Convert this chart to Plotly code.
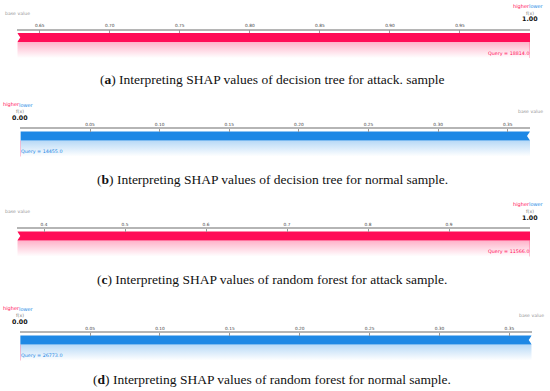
import plotly.graph_objects as go

W, H = 550, 391

# ---------------- data ----------------
panel_letters = ["a", "b", "c", "d"]
caption_texts = [
    "Interpreting SHAP values of decision tree for attack. sample",
    "Interpreting SHAP values of decision tree for normal sample.",
    "Interpreting SHAP values of random forest for attack sample.",
    "Interpreting SHAP values of random forest for normal sample.",
]
base_values = [0.634, 0.366, 0.367, 0.366]
fx_values = [1.00, 0.00, 1.00, 0.00]
query_values = [18814.0, 14455.0, 11566.0, 26773.0]
tick_values = [
    [0.65, 0.70, 0.75, 0.80, 0.85, 0.90, 0.95],
    [0.05, 0.10, 0.15, 0.20, 0.25, 0.30, 0.35],
    [0.4, 0.5, 0.6, 0.7, 0.8, 0.9],
    [0.05, 0.10, 0.15, 0.20, 0.25, 0.30, 0.35],
]
tick_formats = [".2f", ".2f", ".1f", ".2f"]

# ---------------- style / layout (pixels) ----------------
RED = "rgb(255,13,87)"
BLUE = "rgb(30,136,229)"
axis_y = [29.5, 128.0, 228.0, 332.0]        # axis line y (px from top)
dom_left = [17.3, 20.4, 17.3, 20.2]          # px of the left end of the plotted span
dom_right = [530.0, 530.0, 530.0, 531.7]     # px of the right end
caption_y = [79, 179, 279, 379]
caption_x = 272
bar_gap, bar_h, grad_h = 3.5, 9.0, 16.0
notch_px = 3.0

fig = go.Figure()
annotations = []
layout_axes = {}


def px_x(p):
    return p / W


def px_y(p):
    return 1 - p / H


def label(x, y, text, size, color, xanchor="center", family="DejaVu Sans"):
    return dict(x=px_x(x), y=px_y(y), xref="paper", yref="paper", text=text,
                showarrow=False, xanchor=xanchor, yanchor="middle", borderpad=0,
                font=dict(family=family, size=size, color=color))


for i in range(4):
    ax_id = "x" if i == 0 else f"x{i + 1}"
    ax_key = "xaxis" if i == 0 else f"xaxis{i + 1}"
    base, fx = base_values[i], fx_values[i]
    lo, hi = min(base, fx), max(base, fx)
    positive = fx > base
    color = RED if positive else BLUE
    rgb = color[4:-1]

    layout_axes[ax_key] = dict(
        domain=[dom_left[i] / W, dom_right[i] / W],
        range=[lo, hi],
        anchor="free",
        position=px_y(axis_y[i]),
        side="top",
        showline=True,
        linecolor="#b5b5b5",
        linewidth=1.5,
        ticks="inside",
        ticklen=3,
        tickwidth=1,
        tickcolor="#999999",
        tickvals=tick_values[i],
        tickformat=tick_formats[i],
        tickfont=dict(family="DejaVu Sans", size=4.3, color="#444444"),
        showgrid=False,
        zeroline=False,
        fixedrange=True,
    )

    top = axis_y[i] + bar_gap
    bottom = top + bar_h
    mid = (top + bottom) / 2
    ppu = (dom_right[i] - dom_left[i]) / (hi - lo)
    nd = notch_px / ppu

    # gradient area under the bar
    fig.add_trace(go.Scatter(
        x=[lo, hi, hi, lo, lo], y=[bottom, bottom, bottom + grad_h, bottom + grad_h, bottom],
        xaxis=ax_id, yaxis="y", mode="lines", line=dict(width=0),
        fill="toself",
        fillgradient=dict(type="vertical", start=bottom, stop=bottom + grad_h,
                          colorscale=[[0, f"rgba({rgb},0.32)"], [1, f"rgba({rgb},0.0)"]]),
        hoverinfo="skip", showlegend=False,
    ))

    # the bar with its chevron notch at the base-value end
    if positive:
        xs = [lo, hi, hi, lo, lo + nd, lo]
        ys = [top, top, bottom, bottom, mid, top]
    else:
        xs = [lo, hi, hi - nd, hi, lo, lo]
        ys = [top, top, mid, bottom, bottom, top]
    fig.add_trace(go.Scatter(
        x=xs, y=ys, xaxis=ax_id, yaxis="y", mode="lines", line=dict(width=0),
        fill="toself", fillcolor=color, hoverinfo="skip", showlegend=False,
    ))

    # thin marker line at the f(x) end
    fig.add_trace(go.Scatter(
        x=[fx, fx], y=[bottom, bottom + grad_h], xaxis=ax_id, yaxis="y", mode="lines",
        line=dict(width=1, color="rgba(255,13,87,0.45)"), hoverinfo="skip", showlegend=False,
    ))

    fx_px = dom_right[i] if positive else dom_left[i]
    base_px = dom_left[i] if positive else dom_right[i]

    annotations.append(label(base_px, axis_y[i] - 16.5, "base value", 4.6, "#999999"))
    annotations.append(label(fx_px + 0.5, axis_y[i] - 23.5, "higher", 5, RED, "right"))
    annotations.append(label(fx_px - 2.5, axis_y[i] - 23.5, "lower", 5, BLUE, "left"))
    annotations.append(label(fx_px, axis_y[i] - 16.5, "f(x)", 4.6, "#777777"))
    annotations.append(label(fx_px, axis_y[i] - 10.5, f"<b>{fx:.2f}</b>", 6.3, "#111111"))
    annotations.append(label(fx_px, bottom + 11, f"Query = {query_values[i]:.1f}", 4.8, color,
                             "right" if positive else "left"))
    annotations.append(label(caption_x, caption_y[i],
                             f"(<b>{panel_letters[i]}</b>) {caption_texts[i]}", 13.5, "#111111",
                             family="Liberation Serif"))

fig.update_layout(
    width=W, height=H,
    margin=dict(l=0, r=0, t=0, b=0),
    paper_bgcolor="white", plot_bgcolor="rgba(0,0,0,0)",
    showlegend=False,
    yaxis=dict(range=[H, 0], domain=[0, 1], visible=False, fixedrange=True),
    annotations=annotations,
    **layout_axes,
)

fig.write_html("out.html", config={"displayModeBar": False},
               post_script="document.body.style.margin='0';")
